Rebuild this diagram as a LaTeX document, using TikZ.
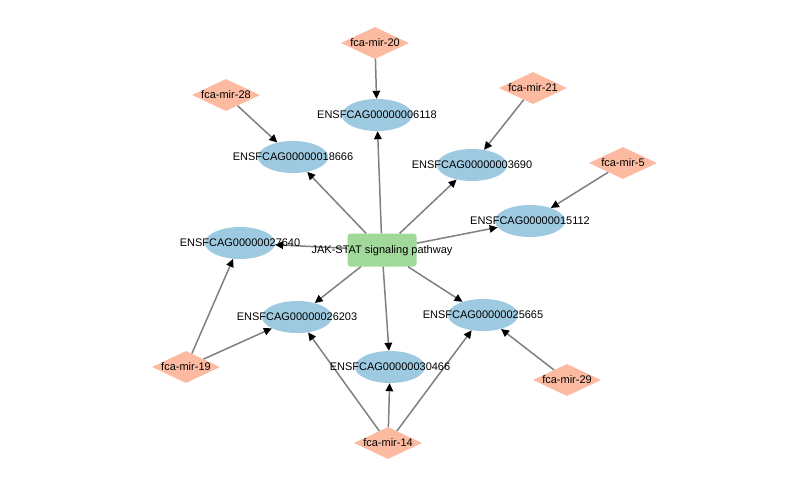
\documentclass[tikz,border=0pt]{standalone}
\usepackage{fontspec}
\setmainfont{Liberation Sans}
\usetikzlibrary{shapes.geometric,arrows.meta}
\definecolor{genefill}{HTML}{9ECAE1}
\definecolor{mirfill}{HTML}{FCBBA1}
\definecolor{pathfill}{HTML}{A1D99B}
\definecolor{edgegray}{HTML}{808080}
\tikzset{
  gene/.style={ellipse, fill=genefill, draw=none, minimum width=70pt, minimum height=32pt, inner sep=0pt},
  mir/.style={diamond, fill=mirfill, draw=none, minimum width=68pt, minimum height=32pt, inner sep=0pt},
  pathbox/.style={rectangle, rounded corners=3pt, fill=pathfill, draw=none, minimum width=69pt, minimum height=33pt, inner sep=0pt},
  lbl/.style={font=\fontsize{11pt}{13pt}\selectfont, text=black, inner sep=0pt, text height=7.9pt, text depth=0pt},
  edge/.style={draw=edgegray, line width=1.5pt, -{Triangle[black,fill=black,length=8pt,width=7.5pt]}},
}
\begin{document}
\begin{tikzpicture}[x=1pt,y=-1pt]
\useasboundingbox[fill=white] (0,0) rectangle (795,501);
% pathway
\node[pathbox] (jak) at (382,250) {};
% genes
\node[gene] (g6118) at (377,115) {};
\node[gene] (g18666) at (293,157) {};
\node[gene] (g3690) at (472,165) {};
\node[gene] (g15112) at (530,221) {};
\node[gene] (g27640) at (240,243) {};
\node[gene] (g26203) at (297,317) {};
\node[gene] (g25665) at (483,315) {};
\node[gene] (g30466) at (390,367) {};
% mirnas
\node[mir] (m20) at (375,43) {};
\node[mir] (m28) at (226,95) {};
\node[mir] (m21) at (533,88) {};
\node[mir] (m5) at (623,163) {};
\node[mir] (m19) at (186,367) {};
\node[mir] (m14) at (388,443) {};
\node[mir] (m29) at (567,380) {};
% edges
\foreach \g in {g6118,g18666,g3690,g15112,g27640,g26203,g25665,g30466}
  \draw[edge] (jak) -- (\g);
\draw[edge] (m20) -- (g6118);
\draw[edge] (m28) -- (g18666);
\draw[edge] (m21) -- (g3690);
\draw[edge] (m5) -- (g15112);
\draw[edge] (m19) -- (g27640);
\draw[edge] (m19) -- (g26203);
\draw[edge] (m14) -- (g26203);
\draw[edge] (m14) -- (g30466);
\draw[edge] (m14) -- (g25665);
\draw[edge] (m29) -- (g25665);
% labels
\node[lbl] at (jak.center) {JAK-STAT signaling pathway};
\node[lbl] at (g6118.center) {ENSFCAG00000006118};
\node[lbl] at (g18666.center) {ENSFCAG00000018666};
\node[lbl] at (g3690.center) {ENSFCAG00000003690};
\node[lbl] at (g15112.center) {ENSFCAG00000015112};
\node[lbl] at (g27640.center) {ENSFCAG00000027640};
\node[lbl] at (g26203.center) {ENSFCAG00000026203};
\node[lbl] at (g25665.center) {ENSFCAG00000025665};
\node[lbl] at (g30466.center) {ENSFCAG00000030466};
\node[lbl] at (m20.center) {fca-mir-20};
\node[lbl] at (m28.center) {fca-mir-28};
\node[lbl] at (m21.center) {fca-mir-21};
\node[lbl] at (m5.center) {fca-mir-5};
\node[lbl] at (m19.center) {fca-mir-19};
\node[lbl] at (m14.center) {fca-mir-14};
\node[lbl] at (m29.center) {fca-mir-29};
\end{tikzpicture}
\end{document}
